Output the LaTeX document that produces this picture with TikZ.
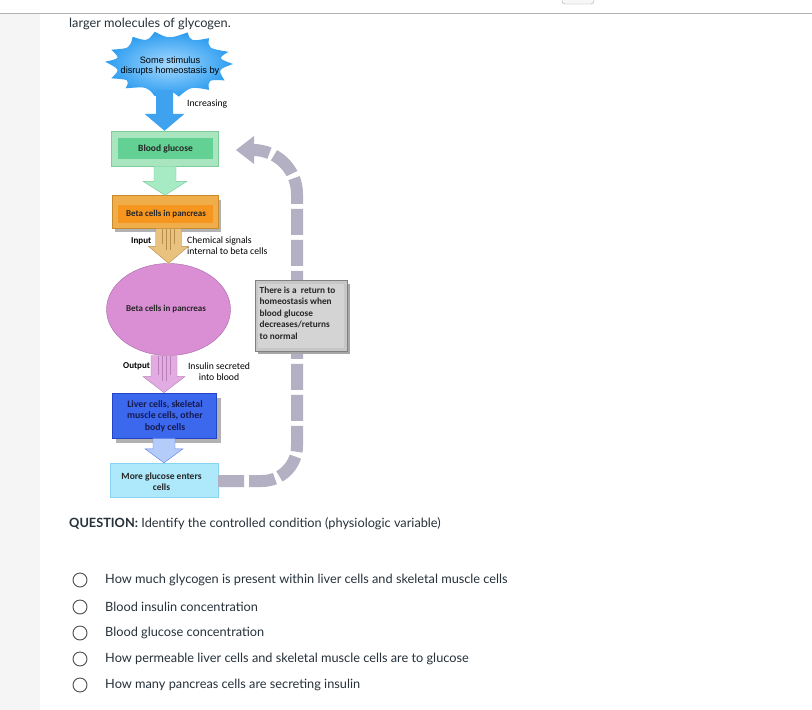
\documentclass[tikz,border=0pt]{standalone}
\usepackage{fontspec}
\setmainfont{Lato}
\newfontfamily\calf{Carlito}
\newfontfamily\arif{Liberation Sans}
\usetikzlibrary{calc,shadings,shapes.geometric}
\definecolor{pagetxt}{HTML}{26313A}
\definecolor{loopc}{HTML}{B2B0C2}
\definecolor{burstout}{HTML}{2C9CF0}
\definecolor{burstin}{HTML}{A6DAFF}
\definecolor{bluearr}{HTML}{3FA2EE}
\definecolor{bgo}{HTML}{A9E5BE}
\definecolor{bgob}{HTML}{7FCB9A}
\definecolor{bgi}{HTML}{62D193}
\definecolor{grarr}{HTML}{A6EBC3}
\definecolor{grarrb}{HTML}{78C89A}
\definecolor{beo}{HTML}{F0AE4A}
\definecolor{beob}{HTML}{C98A2A}
\definecolor{bei}{HTML}{F7961E}
\definecolor{tanarr}{HTML}{E8C27E}
\definecolor{tanarrb}{HTML}{B98E4A}
\definecolor{ellc}{HTML}{DA8ED4}
\definecolor{ellb}{HTML}{A86AA8}
\definecolor{pkarr}{HTML}{E2ACE2}
\definecolor{pkarrb}{HTML}{B87FB8}
\definecolor{lvc}{HTML}{3C68EE}
\definecolor{lvb}{HTML}{2444C8}
\definecolor{lvt}{HTML}{161A50}
\definecolor{lbarr}{HTML}{B4CCFA}
\definecolor{lbarrb}{HTML}{5A7CE0}
\definecolor{cyc}{HTML}{ADE9FB}
\definecolor{cycb}{HTML}{86D4F0}
\tikzset{
  x=1pt,y=-1pt,
  dtxt/.style={font=\calf\fontsize{9.7}{11}\selectfont,inner sep=0pt,text=black},
  btxt/.style={font=\calf\bfseries\fontsize{9.5}{11}\selectfont,inner sep=0pt,text=black!85},
  ptxt/.style={font=\fontsize{12.75}{15}\selectfont,inner sep=0pt,text=pagetxt,anchor=west},
  radio/.style={draw=black!70,line width=0.9pt,circle,minimum size=14pt,inner sep=0pt},
  shadowbox/.style={fill=black!30},
}
\newcommand\barrow[6]{% style, from, to, shaft half, head half, head length
  \path[#1] let \p1=(#2), \p2=(#3) in (\x2-#4,\y1) -- (\x2-#4,\y2+#6) -- (\x2-#5,\y2+#6) -- (\x2,\y2) -- (\x2+#5,\y2+#6) -- (\x2+#4,\y2+#6) -- (\x2+#4,\y1) -- cycle;}
\newcommand\bstripes[4]{% color, from, to, head length
  \draw[#1,line width=0.5pt] let \p1=(#2), \p2=(#3) in
    (\x2-6pt,\y1) -- (\x2-6pt,\y2+#4+2pt) (\x2-2pt,\y1) -- (\x2-2pt,\y2+#4-4pt)
    (\x2+2pt,\y1) -- (\x2+2pt,\y2+#4-4pt) (\x2+6pt,\y1) -- (\x2+6pt,\y2+#4+2pt);}
\begin{document}
\begin{tikzpicture}
\useasboundingbox (0,0) rectangle (812,710);
% page chrome
\fill[white] (0,0) rectangle (812,710);
\fill[black!4] (0,14) rectangle (40,710);
\draw[black!30,line width=1pt] (0,13.5) -- (812,13.5);
\draw[black!35,fill=black!3,rounded corners=3pt] (562,-6) rectangle (594,4);
\node[ptxt] (intro) at (69,24) {larger molecules of glycogen.};

% starburst
\shade[inner color=burstin,outer color=burstout,draw=none]
  ({169+64*cos(0)},{64+33*sin(0)})
  \foreach \i in {1,...,14}{
    .. controls ({169+50*cos((\i-0.5)*360/14)},{64+25*sin((\i-0.5)*360/14)}) ..
    ({169+64*cos(\i*360/14+4*mod(\i,2))},{64+33*sin(\i*360/14+4*mod(\i,2))})
  } -- cycle;
\node[font=\arif\fontsize{9.2}{10.5}\selectfont,align=center,inner sep=0pt] (stim) at (170,66) {Some stimulus\\disrupts homeostasis by};
\coordinate (stimbot) at (168,90);

% blood glucose
\node[fill=bgo,draw=bgob,minimum width=107pt,minimum height=35pt,inner sep=0pt] (bgout) at (164.5,148.5) {};
\node[fill=bgi,minimum width=95pt,minimum height=21pt,inner sep=0pt] (bgin) at (165.5,148.5) {};
\node[btxt] (bgt) at (165.5,148.5) {Blood glucose};

% beta box
\fill[shadowbox] (115,200) rectangle (221,232);
\node[fill=beo,draw=beob,minimum width=106pt,minimum height=33pt,inner sep=0pt] (betaout) at (165,212) {};
\node[fill=bei,minimum width=95pt,minimum height=18pt,inner sep=0pt] (betain) at (165.5,213.5) {};
\node[btxt,font=\calf\bfseries\fontsize{9}{10}\selectfont] (betat) at (166,214) {Beta cells in pancreas};

% ellipse
\node[ellipse,draw=ellb,fill=ellc,minimum width=124pt,minimum height=92pt,inner sep=0pt] (ell) at (168.5,309.5) {};
\node[btxt,font=\calf\bfseries\fontsize{9}{10}\selectfont] (ellt) at (166,309.5) {Beta cells in pancreas};

% blue box
\fill[shadowbox] (116,398) rectangle (221,443);
\node[fill=lvc,draw=lvb,line width=0.8pt,minimum width=104pt,minimum height=45pt,inner sep=0pt] (liver) at (164,415.5) {};
\node[btxt,align=center,text=lvt,font=\calf\bfseries\fontsize{9.8}{11.5}\selectfont] (livert) at (165,416) {Liver cells, skeletal\\muscle cells, other\\body cells};

% cyan box
\node[fill=cyc,draw=cycb,minimum width=108pt,minimum height=34pt,inner sep=0pt] (more) at (164,480) {};
\node[btxt,align=center,font=\calf\bfseries\fontsize{9.5}{11}\selectfont] (moret) at (161.5,481.5) {More glucose enters\\cells};

% block arrows
\barrow{fill=bluearr,draw=none}{stimbot}{bgout.north}{8.5pt}{20pt}{17pt}
\barrow{fill=grarr,draw=grarrb}{bgout.south}{betaout.north}{11pt}{22pt}{14pt}
\barrow{fill=tanarr,draw=tanarrb}{betaout.south}{ell.north}{13pt}{20pt}{17pt}
\bstripes{tanarrb}{betaout.south}{ell.north}{17pt}
\barrow{fill=pkarr,draw=pkarrb}{ell.south}{liver.north}{13pt}{21pt}{16pt}
\bstripes{pkarrb}{ell.south}{liver.north}{16pt}
\barrow{fill=lbarr,draw=lbarrb}{liver.south}{more.north}{11pt}{19pt}{14pt}

% labels
\node[dtxt,anchor=west] (incr) at (187,104) {Increasing};
\node[dtxt,anchor=west,font=\calf\bfseries\fontsize{9}{10}\selectfont] (inp) at (131,241) {Input};
\node[dtxt,anchor=north west,align=left] (chem) at (187,236.5) {Chemical signals\\internal to beta cells};
\node[dtxt,anchor=west,font=\calf\bfseries\fontsize{9}{10}\selectfont] (outp) at (123,366) {Output};
\node[dtxt,anchor=north,align=center] (ins) at (219,362.5) {Insulin secreted\\into blood};

% feedback loop
\coordinate (lstart) at (more.east |- 0,481);
\coordinate (lhead) at (254,150);
\draw[loopc,line width=12pt,dash pattern=on 26pt off 5pt]
  (lstart) -- (262,481) arc[start angle=90,end angle=0,radius=35] -- (297,194)
  arc[start angle=0,end angle=-90,radius=44] -- (lhead);
\fill[loopc] (236,150) -- (254,136) -- (254,164) -- cycle;

% gray box
\fill[black!35] (258,284) rectangle (350,354);
\node[fill=black!22,draw=black!50,minimum width=92pt,minimum height=71pt,inner sep=0pt] (retbox) at (301,315.5) {};
\fill[black!17] (258,284) rectangle (344,348);
\node[btxt,anchor=north west,align=left,font=\calf\bfseries\fontsize{9.3}{11.5}\selectfont] (rett) at (259.5,286.5) {There is a \ return to\\homeostasis when\\blood glucose\\decreases/returns\\to normal};

% question
\node[ptxt] (q) at (69,524) {\textbf{QUESTION:} Identify the controlled condition (physiologic variable)};
\foreach \yy/\txt [count=\k] in {580/How much glycogen is present within liver cells and skeletal muscle cells,
  607/Blood insulin concentration,
  633/Blood glucose concentration,
  659/How permeable liver cells and skeletal muscle cells are to glucose,
  685/How many pancreas cells are secreting insulin}{
  \node[radio] (r\k) at (80,\yy) {};
  \node[ptxt] (o\k) at (105,\yy) {\txt};
}
\end{tikzpicture}
\end{document}
